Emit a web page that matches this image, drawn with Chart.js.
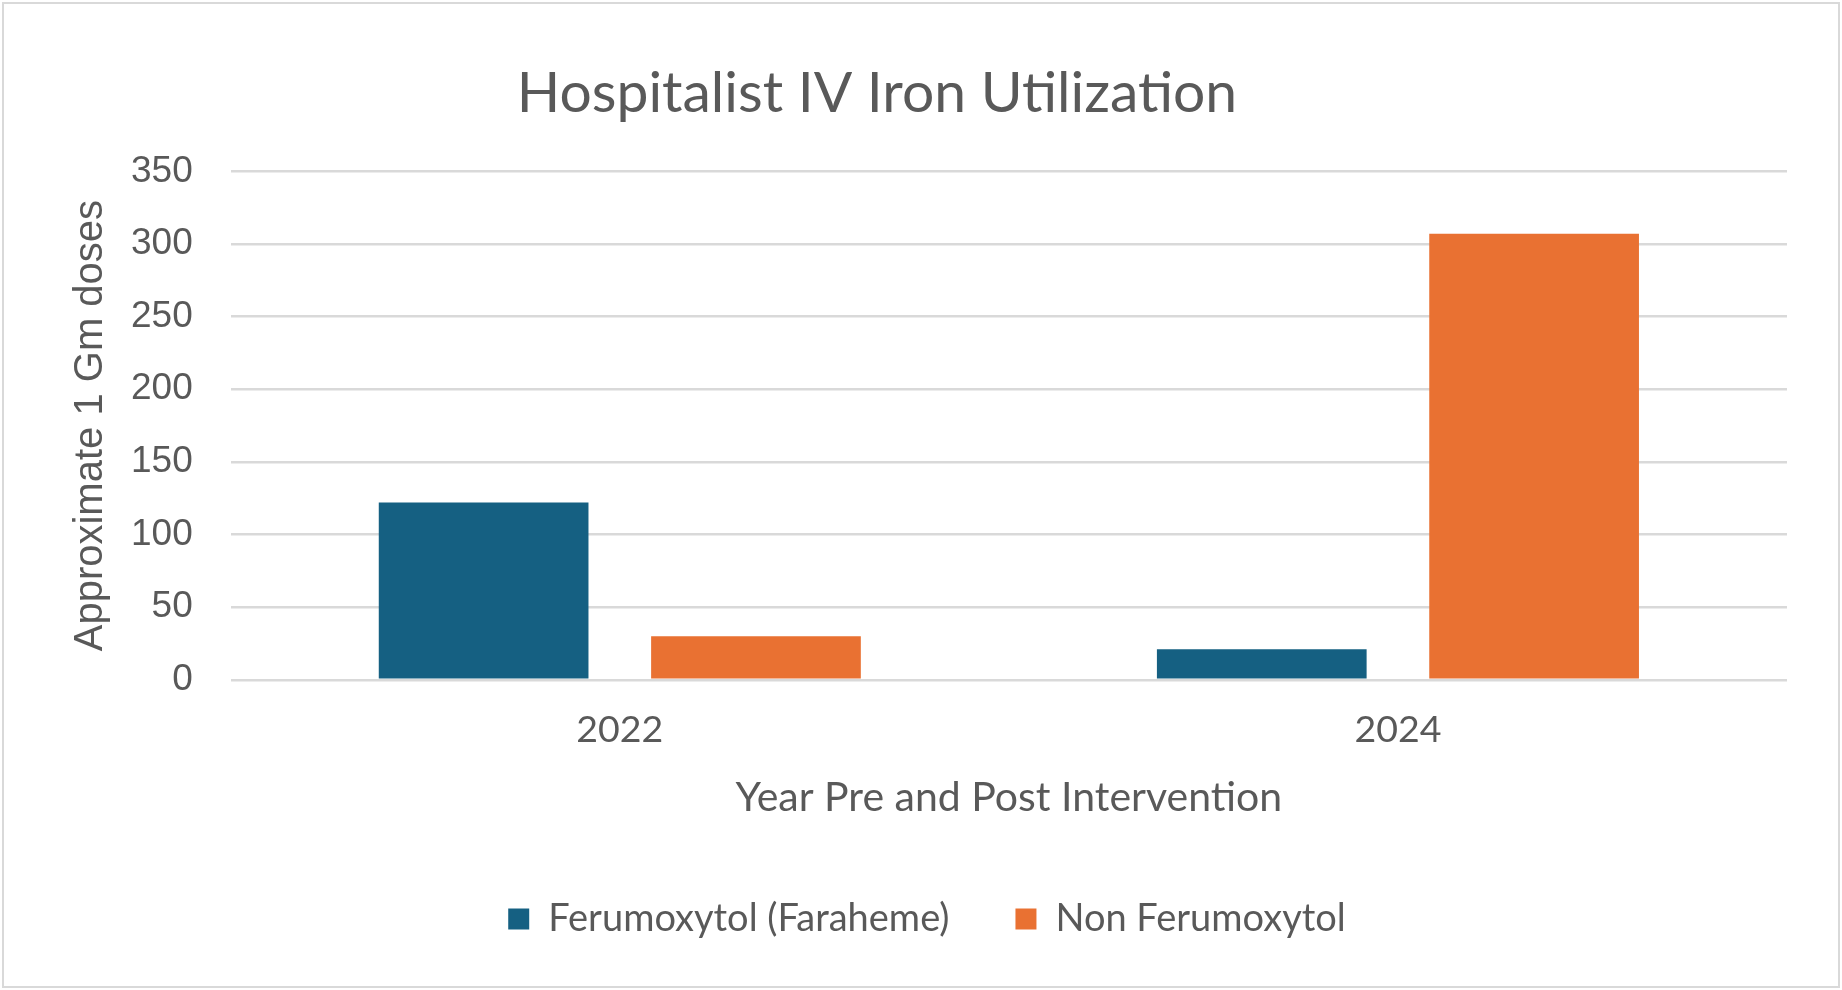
<!DOCTYPE html>
<html>
<head>
<meta charset="utf-8">
<script src="https://cdn.jsdelivr.net/npm/chart.js@4/dist/chart.umd.min.js"></script>
<style>
  html, body { margin: 0; padding: 0; background: #fff; }
  #frame {
    position: absolute; left: 2px; top: 2px;
    width: 1838px; height: 986px;
    box-sizing: border-box;
    border: 2px solid #d9d9d9;
  }
  #wrap { position: absolute; left: 0; top: 0; width: 1834px; height: 982px; }
</style>
</head>
<body>
<div id="frame"><div id="wrap"><canvas id="ironChart"></canvas></div></div>
<script>
// chart data
const years = ['2022', '2024'];
const ferumoxytol = [122, 21];
const nonFerumoxytol = [30, 307];
const seriesNames = ['Ferumoxytol (Faraheme)', 'Non Ferumoxytol'];
const yTicks = [0, 50, 100, 150, 200, 250, 300, 350];

const textGray = '#595959';
const gridGray = '#d9d9d9';
const uiFont = 'Lato, "Open Sans", sans-serif';
const axisFont = '"Liberation Sans", Arial, sans-serif';

// the original title sits a little left of the canvas centre
const titleNudge = {
  id: 'titleNudge',
  afterLayout(chart) {
    if (chart.titleBlock) {
      chart.titleBlock.left -= 50;
      chart.titleBlock.right -= 50;
    }
  }
};

new Chart(document.getElementById('ironChart'), {
  type: 'bar',
  data: {
    labels: years,
    datasets: [
      { label: seriesNames[0], data: ferumoxytol, backgroundColor: '#156082' },
      { label: seriesNames[1], data: nonFerumoxytol, backgroundColor: '#e97132' }
    ]
  },
  plugins: [titleNudge],
  options: {
    responsive: true,
    maintainAspectRatio: false,
    animation: false,
    categoryPercentage: 0.70,
    barPercentage: 0.77,
    layout: { padding: { left: 63, right: 51, top: 0, bottom: 38 } },
    plugins: {
      title: {
        display: true,
        text: 'Hospitalist IV Iron Utilization',
        color: textGray,
        font: { family: uiFont, size: 57, weight: 'normal' },
        padding: { top: 55, bottom: 44 }
      },
      legend: {
        position: 'bottom',
        labels: {
          color: textGray,
          font: { family: uiFont, size: 38 },
          boxWidth: 21,
          boxHeight: 21,
          padding: 66
        }
      },
      tooltip: { enabled: false }
    },
    scales: {
      x: {
        grid: { display: false, drawTicks: false },
        border: { display: false },
        ticks: { color: textGray, font: { family: uiFont, size: 37.5 }, padding: 28 },
        title: {
          display: true,
          text: 'Year Pre and Post Intervention',
          color: textGray,
          font: { family: uiFont, size: 41 },
          padding: { top: -8, bottom: 12 }
        }
      },
      y: {
        min: 0,
        max: 350,
        afterBuildTicks: (axis) => { axis.ticks = yTicks.map(v => ({ value: v })); },
        grid: { color: gridGray, lineWidth: 2.5, drawTicks: false },
        border: { display: false },
        ticks: { color: textGray, font: { family: axisFont, size: 37 }, padding: 38 },
        title: {
          display: true,
          text: 'Approximate 1 Gm doses',
          color: textGray,
          font: { family: axisFont, size: 40 },
          padding: { top: 0, bottom: -22 }
        }
      }
    }
  }
});
</script>
</body>
</html>
